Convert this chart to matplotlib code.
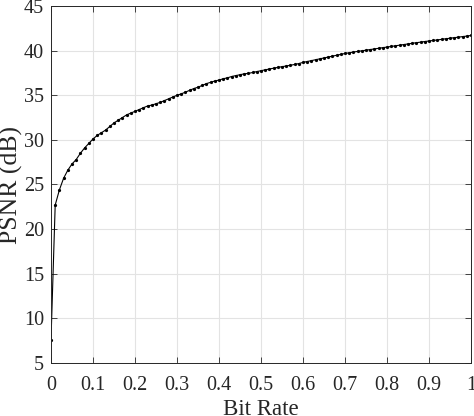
import matplotlib.pyplot as plt
import numpy as np

plt.rcParams['font.family'] = ['Liberation Serif', 'DejaVu Serif']

bit_rate = np.round(np.arange(0, 101) * 0.01, 2)
psnr = [
    7.6, 22.7, 24.4, 25.7, 26.6, 27.3, 27.8, 28.5, 29.1, 29.6,
    30.1, 30.5, 30.8, 31.1, 31.5, 31.9, 32.2, 32.5, 32.8, 33.0,
    33.2, 33.4, 33.6, 33.8, 33.9, 34.05, 34.2, 34.4, 34.6, 34.8,
    35.0, 35.15, 35.35, 35.55, 35.75, 35.9, 36.1, 36.3, 36.45, 36.6,
    36.7, 36.85, 36.95, 37.1, 37.2, 37.3, 37.4, 37.45, 37.55, 37.65,
    37.75, 37.85, 37.94, 38.03, 38.12, 38.2, 38.28, 38.36, 38.45, 38.55,
    38.68, 38.78, 38.88, 38.98, 39.08, 39.18, 39.28, 39.38, 39.48, 39.58,
    39.68, 39.76, 39.84, 39.91, 39.98, 40.05, 40.12, 40.19, 40.26, 40.33,
    40.4, 40.47, 40.54, 40.61, 40.68, 40.75, 40.82, 40.89, 40.95, 41.02,
    41.08, 41.14, 41.2, 41.26, 41.33, 41.39, 41.45, 41.51, 41.57, 41.63,
    41.7,
]
x_ticks = [0, 0.1, 0.2, 0.3, 0.4, 0.5, 0.6, 0.7, 0.8, 0.9, 1]
x_labels = ['0', '0.1', '0.2', '0.3', '0.4', '0.5', '0.6', '0.7', '0.8', '0.9', '1']
y_ticks = [5, 10, 15, 20, 25, 30, 35, 40, 45]

fig = plt.figure(figsize=(4.74, 4.16), dpi=100)
ax = fig.add_axes([51 / 474, 53 / 416, 420 / 474, 357 / 416])

ax.plot(bit_rate, psnr, color='black', linewidth=0.8, marker='.', markersize=2.6)

ax.set_xlim(0, 1)
ax.set_ylim(5, 45)
ax.set_xticks(x_ticks)
ax.set_xticklabels(x_labels)
ax.set_yticks(y_ticks)
ax.grid(True, color='#e3e3e3', linewidth=0.8)
ax.set_axisbelow(True)
ax.tick_params(direction='in', top=True, right=True, labelsize=14.5, colors='#262626',
               length=4, width=0.6)
ax.tick_params(axis='x', pad=9)
ax.tick_params(axis='y', pad=5)
for s in ax.spines.values():
    s.set_color('#262626')
    s.set_linewidth(0.7)

ax.set_xlabel('Bit Rate', fontsize=16.5, color='#262626', labelpad=3)
ax.set_ylabel('PSNR (dB)', fontsize=18.5, color='#262626', labelpad=1)

plt.savefig('out.png', dpi=100)
plt.close()
